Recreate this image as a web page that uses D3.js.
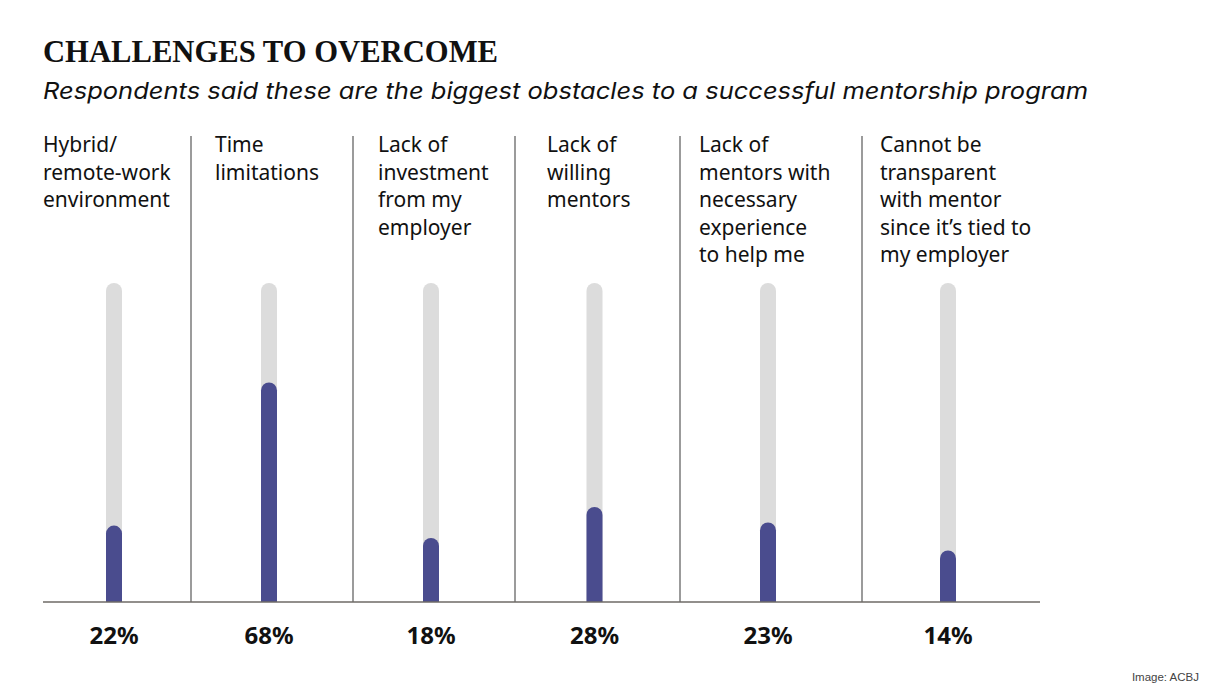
<!DOCTYPE html>
<html>
<head>
<meta charset="utf-8">
<script src="https://cdn.jsdelivr.net/npm/d3@7"></script>
<style>
    body { margin: 0; background: #fff; }
    svg { display: block; }
</style>
</head>
<body>
<div id="chart"></div>
<script>
// data
let labels = [
    ["Hybrid/", "remote-work", "environment"],
    ["Time", "limitations"],
    ["Lack of", "investment", "from my", "employer"],
    ["Lack of", "willing", "mentors"],
    ["Lack of", "mentors with", "necessary", "experience", "to help me"],
    ["Cannot be", "transparent", "with mentor", "since it\u2019s tied to", "my employer"]
];
let values = [22, 68, 18, 28, 23, 14];
let domainMax = 100;

// layout: column edges (columns are not equal width in the original) and label indents
let colEdges = [43, 191, 353, 515, 680, 862, 1040];
let labelIndent = [0, 24, 25, 32, 19, 18];

let width = 1208, height = 687;
let baseY = 602, topY = 291;
let barW = 16;

let svg = d3.select("#chart").append("svg")
    .attr("width", width)
    .attr("height", height);

// title
svg.append("text")
    .attr("x", 43).attr("y", 62)
    .attr("font-family", "Liberation Serif, serif")
    .attr("font-weight", "bold")
    .attr("font-size", 32)
    .attr("textLength", 455)
    .attr("lengthAdjust", "spacingAndGlyphs")
    .attr("fill", "#111")
    .text("CHALLENGES TO OVERCOME");

svg.append("text")
    .attr("x", 43).attr("y", 99)
    .attr("font-family", "Inter, sans-serif")
    .attr("font-style", "italic")
    .attr("font-size", 23)
    .attr("textLength", 1045)
    .attr("lengthAdjust", "spacingAndGlyphs")
    .attr("fill", "#111")
    .text("Respondents said these are the biggest obstacles to a successful mentorship program");

// scales
let idx = d3.range(values.length);
let colLeft = d3.scaleOrdinal().domain(idx).range(colEdges.slice(0, -1));
let colRight = d3.scaleOrdinal().domain(idx).range(colEdges.slice(1));
let xCenter = i => (colLeft(i) + colRight(i)) / 2 - 3;
let y = d3.scaleLinear().domain([0, domainMax]).range([baseY, topY]);

// separators
svg.selectAll(".sep")
    .data(idx.slice(1))
    .enter().append("line")
    .attr("class", "sep")
    .attr("x1", d => colLeft(d)).attr("x2", d => colLeft(d))
    .attr("y1", 136).attr("y2", baseY)
    .attr("stroke", "#7a7a7a")
    .attr("stroke-width", 1.5);

// labels
let lab = svg.selectAll(".lab")
    .data(labels)
    .enter().append("text")
    .attr("class", "lab")
    .attr("font-family", "Noto Sans, sans-serif")
    .attr("font-size", 21)
    .attr("fill", "#111");

lab.selectAll("tspan")
    .data((d, i) => d.map(t => ({t: t, i: i})))
    .enter().append("tspan")
    .attr("x", d => colLeft(d.i) + labelIndent[d.i])
    .attr("y", (d, j) => 152 + j * 27.5)
    .text(d => d.t);

// tracks
svg.selectAll(".track")
    .data(values)
    .enter().append("line")
    .attr("class", "track")
    .attr("x1", (d, i) => xCenter(i)).attr("x2", (d, i) => xCenter(i))
    .attr("y1", baseY).attr("y2", y(domainMax))
    .attr("stroke", "#dcdcdc")
    .attr("stroke-width", barW)
    .attr("stroke-linecap", "round");

// bars
svg.selectAll(".bar")
    .data(values)
    .enter().append("line")
    .attr("class", "bar")
    .attr("x1", (d, i) => xCenter(i)).attr("x2", (d, i) => xCenter(i))
    .attr("y1", baseY).attr("y2", d => y(d))
    .attr("stroke", "#4a4c8e")
    .attr("stroke-width", barW)
    .attr("stroke-linecap", "round");

// cover the bottom round caps
svg.append("rect")
    .attr("x", 0).attr("y", baseY)
    .attr("width", width).attr("height", 20)
    .attr("fill", "#fff");

// baseline
svg.append("line")
    .attr("x1", colEdges[0]).attr("x2", colEdges[colEdges.length - 1])
    .attr("y1", baseY).attr("y2", baseY)
    .attr("stroke", "#6e6a66")
    .attr("stroke-width", 1.5);

// value labels
svg.selectAll(".val")
    .data(values)
    .enter().append("text")
    .attr("class", "val")
    .attr("x", (d, i) => xCenter(i))
    .attr("y", 644)
    .attr("text-anchor", "middle")
    .attr("font-family", "Noto Sans, sans-serif")
    .attr("font-weight", "bold")
    .attr("font-size", 24)
    .attr("fill", "#111")
    .text(d => d + "%");

// credit
svg.append("text")
    .attr("x", 1199).attr("y", 681)
    .attr("text-anchor", "end")
    .attr("font-family", "Liberation Sans, Arial, sans-serif")
    .attr("font-size", 11.5)
    .attr("fill", "#444")
    .text("Image: ACBJ");
</script>
</body>
</html>
